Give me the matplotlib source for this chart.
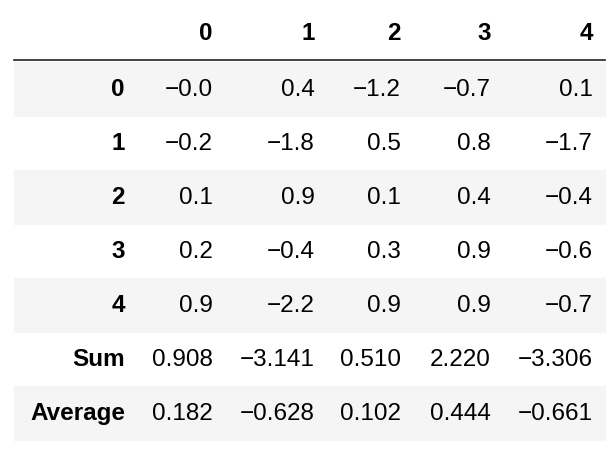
import matplotlib
matplotlib.use("Agg")
import matplotlib.pyplot as plt
from matplotlib.patches import Rectangle

columns = ["0", "1", "2", "3", "4"]
row_labels = ["0", "1", "2", "3", "4", "Sum", "Average"]
row0 = ["-0.0", "0.4", "-1.2", "-0.7", "0.1"]
row1 = ["-0.2", "-1.8", "0.5", "0.8", "-1.7"]
row2 = ["0.1", "0.9", "0.1", "0.4", "-0.4"]
row3 = ["0.2", "-0.4", "0.3", "0.9", "-0.6"]
row4 = ["0.9", "-2.2", "0.9", "0.9", "-0.7"]
row_sum = [0.908, -3.141, 0.510, 2.220, -3.306]
row_avg = [0.182, -0.628, 0.102, 0.444, -0.661]

rows = [row0, row1, row2, row3, row4,
        [f"{v:.3f}" for v in row_sum], [f"{v:.3f}" for v in row_avg]]
rows = [[s.replace("-", "\u2212") for s in r] for r in rows]

plt.rcParams['font.family'] = ['Liberation Sans', 'DejaVu Sans']
fig = plt.figure(figsize=(6.1, 4.52), dpi=100)
ax = fig.add_axes([0, 0, 1, 1])
ax.set_xlim(0, 610)
ax.set_ylim(452, 0)
ax.axis("off")

col_right = [213, 315, 401, 491, 593]
idx_right = 125
header_y = 33
row_y0 = 90
row_h = 54
fs = 17.5

for c, x in zip(columns, col_right):
    ax.text(x, header_y, c, ha="right", va="center", fontsize=fs, fontweight="bold", color="black")
ax.plot([14, 605], [61, 61], color="#222222", lw=1.2)

for i, (lab, vals) in enumerate(zip(row_labels, rows)):
    y = row_y0 + i * row_h
    if i % 2 == 0:
        ax.add_patch(Rectangle((14, y - row_h / 2), 591, row_h, color="#f5f5f5", zorder=0))
    ax.text(idx_right, y, lab, ha="right", va="center", fontsize=fs, fontweight="bold", color="black")
    for v, x in zip(vals, col_right):
        ax.text(x, y, v, ha="right", va="center", fontsize=fs, color="black")

fig.savefig("out.png", dpi=100)
